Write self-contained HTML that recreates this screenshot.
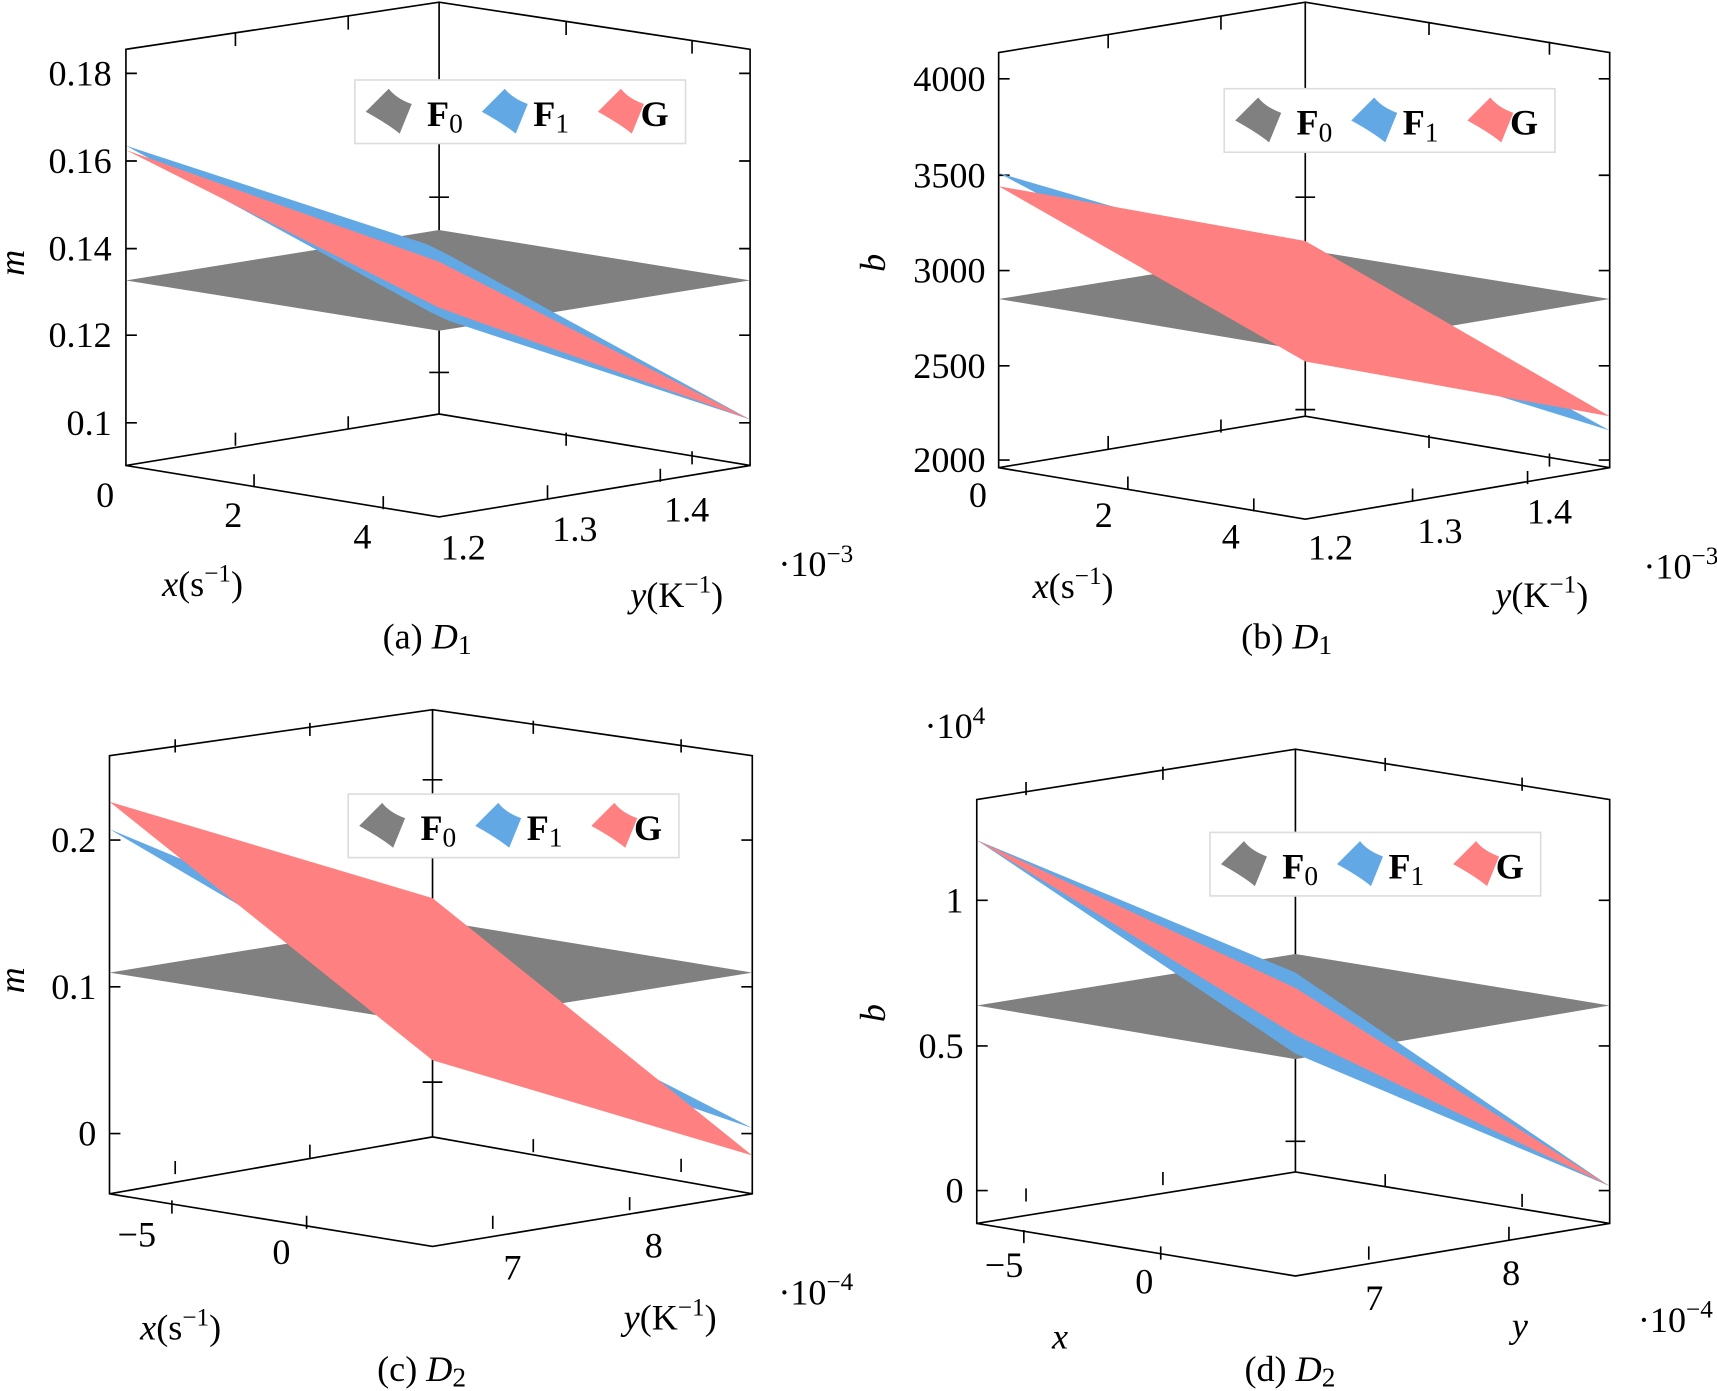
<!DOCTYPE html>
<html><head><meta charset="utf-8"><style>
html,body{margin:0;padding:0;background:#fff;}
svg{display:block;}
svg text{font-family:"Liberation Serif","DejaVu Serif",serif;}
</style></head><body>
<svg width="1717" height="1391" viewBox="0 0 1568 1270" preserveAspectRatio="none" xmlns="http://www.w3.org/2000/svg">
<defs>
<g id="lg">
 <rect x="0" y="0" width="302" height="58" fill="#fff" stroke="#ddd" stroke-width="1.5"/>
 <path d="M10 29 L31 8 Q38 17 52 22 L41 49 Q30 40 10 29 Z" fill="#808080"/>
 <text x="66" y="42" font-size="33" font-weight="bold">F<tspan font-size="25" font-weight="normal" dy="6">0</tspan></text>
 <path d="M116 29 L137 8 Q144 17 158 22 L147 49 Q136 40 116 29 Z" fill="#62a8e5"/>
 <text x="163" y="42" font-size="33" font-weight="bold">F<tspan font-size="25" font-weight="normal" dy="6">1</tspan></text>
 <path d="M222 29 L243 8 Q250 17 264 22 L253 49 Q242 40 222 29 Z" fill="#fe8080"/>
 <text x="261" y="42" font-size="33" font-weight="bold">G</text>
</g>
</defs>

<!-- Panel A -->
<g stroke="#000" stroke-width="1.5" fill="none">
 <path d="M115 45 L401 2 L685 45 L685 425 L401 472 L115 425 Z"/>
 <path d="M401 2 L401 378 M115 425 L401 378 L685 425"/>
 <path d="M115 67h10M115 147h10M115 227h10M115 306h10M115 386h10"/>
 <path d="M685 67h-10M685 147h-10M685 227h-10M685 306h-10M685 386h-10"/>
 <path d="M392 100h18M392 180h18M392 260h18M392 340h18"/>
 <path d="M215 30v12M318 15v12M517 20v12M632 37v12"/>
 <path d="M215 395v12M318 380v12M232 445v-12M350 465v-12M517 395v12M632 412v12M500 455v-12M603 440v-12"/>
</g>
<polygon points="115,256 401,210 685,256 401,302" fill="#808080"/>
<polygon points="115,133 390,223 410,233 685,383 410,293 393,285" fill="#62a8e5"/>
<polygon points="115,137 401,239 685,383 401,281" fill="#fe8080"/>
<use href="#lg" x="324" y="73"/>
<g font-size="33" text-anchor="end">
 <text x="102" y="78">0.18</text><text x="102" y="158">0.16</text><text x="102" y="238">0.14</text><text x="102" y="317">0.12</text><text x="102" y="397">0.1</text>
</g>
<g font-size="33" text-anchor="middle">
 <text x="96" y="463">0</text><text x="213" y="481">2</text><text x="331" y="501">4</text>
 <text x="423" y="511">1.2</text><text x="525" y="494">1.3</text><text x="627" y="476">1.4</text>
 <text x="745" y="526">·10<tspan font-size="23" dy="-13">−3</tspan></text>
 <text x="185" y="544"><tspan font-style="italic">x</tspan>(s<tspan font-size="23" dy="-13">−1</tspan><tspan dy="13">)</tspan></text>
 <text x="618" y="554"><tspan font-style="italic">y</tspan>(K<tspan font-size="23" dy="-13">−1</tspan><tspan dy="13">)</tspan></text>
 <text x="390" y="592">(a) <tspan font-style="italic">D</tspan><tspan font-size="25" dy="5">1</tspan></text>
</g>
<text x="22" y="240" font-size="33" font-style="italic" transform="rotate(-90 22 240)" text-anchor="middle">m</text>

<!-- Panel B -->
<g stroke="#000" stroke-width="1.5" fill="none">
 <path d="M912 48 L1192 2 L1470 48 L1470 427 L1192 474 L912 427 Z"/>
 <path d="M1192 2 L1192 380 M912 427 L1192 380 L1470 427"/>
 <path d="M912 72h10M912 160h10M912 247h10M912 334h10M912 420h10"/>
 <path d="M1470 72h-10M1470 160h-10M1470 247h-10M1470 334h-10M1470 420h-10"/>
 <path d="M1183 100h18M1183 180h18M1183 265h18M1183 374h18"/>
 <path d="M1012 32v12M1115 15v12M1305 20v12M1415 38v12"/>
 <path d="M1012 398v12M1115 383v12M1030 447v-12M1145 467v-12M1305 397v12M1415 414v12M1290 458v-12M1395 442v-12"/>
</g>
<polygon points="912,273 1192,228 1470,273 1192,320" fill="#808080"/>
<polygon points="912,158 1192,240 1470,393 1192,307" fill="#62a8e5"/>
<polygon points="912,170 1192,220 1470,380 1192,330" fill="#fe8080"/>
<use href="#lg" x="1118" y="81"/>
<g font-size="33" text-anchor="end">
 <text x="900" y="83">4000</text><text x="900" y="171">3500</text><text x="900" y="258">3000</text><text x="900" y="345">2500</text><text x="900" y="431">2000</text>
</g>
<g font-size="33" text-anchor="middle">
 <text x="893" y="463">0</text><text x="1008" y="481">2</text><text x="1124" y="501">4</text>
 <text x="1215" y="511">1.2</text><text x="1315" y="496">1.3</text><text x="1415" y="478">1.4</text>
 <text x="1535" y="528">·10<tspan font-size="23" dy="-13">−3</tspan></text>
 <text x="980" y="546"><tspan font-style="italic">x</tspan>(s<tspan font-size="23" dy="-13">−1</tspan><tspan dy="13">)</tspan></text>
 <text x="1408" y="554"><tspan font-style="italic">y</tspan>(K<tspan font-size="23" dy="-13">−1</tspan><tspan dy="13">)</tspan></text>
 <text x="1175" y="592">(b) <tspan font-style="italic">D</tspan><tspan font-size="25" dy="5">1</tspan></text>
</g>
<text x="808" y="240" font-size="33" font-style="italic" transform="rotate(-90 808 240)" text-anchor="middle">b</text>

<!-- Panel C -->
<g stroke="#000" stroke-width="1.5" fill="none">
 <path d="M100 690 L395 648 L687 690 L687 1090 L395 1138 L100 1090 Z"/>
 <path d="M395 648 L395 1038 M100 1090 L395 1038 L687 1090"/>
 <path d="M100 767h10M100 901h10M100 1035h10"/>
 <path d="M687 767h-10M687 901h-10M687 1035h-10"/>
 <path d="M386 712h18M386 850h18M386 988h18"/>
 <path d="M160 675v12M283 660v12M487 658v12M622 675v12"/>
 <path d="M160 1060v12M283 1045v12M157 1108v-12M280 1122v-12M487 1040v12M622 1058v12M450 1122v-12M575 1105v-12"/>
</g>
<polygon points="100,888 395,840 687,888 395,935" fill="#808080"/>
<polygon points="100,757 395,880 687,1030 395,930" fill="#62a8e5"/>
<polygon points="100,732 395,820 687,1055 395,968" fill="#fe8080"/>
<use href="#lg" x="318" y="725"/>
<g font-size="33" text-anchor="end">
 <text x="88" y="778">0.2</text><text x="88" y="912">0.1</text><text x="88" y="1046">0</text>
</g>
<g font-size="33" text-anchor="middle">
 <text x="125" y="1138">−5</text><text x="257" y="1154">0</text>
 <text x="468" y="1168">7</text><text x="597" y="1148">8</text>
 <text x="745" y="1191">·10<tspan font-size="23" dy="-13">−4</tspan></text>
 <text x="165" y="1223"><tspan font-style="italic">x</tspan>(s<tspan font-size="23" dy="-13">−1</tspan><tspan dy="13">)</tspan></text>
 <text x="612" y="1214"><tspan font-style="italic">y</tspan>(K<tspan font-size="23" dy="-13">−1</tspan><tspan dy="13">)</tspan></text>
 <text x="385" y="1261">(c) <tspan font-style="italic">D</tspan><tspan font-size="25" dy="5">2</tspan></text>
</g>
<text x="22" y="895" font-size="33" font-style="italic" transform="rotate(-90 22 895)" text-anchor="middle">m</text>

<!-- Panel D -->
<g stroke="#000" stroke-width="1.5" fill="none">
 <path d="M892 730 L1183 684 L1470 730 L1470 1117 L1183 1165 L892 1117 Z"/>
 <path d="M1183 684 L1183 1070 M892 1117 L1183 1070 L1470 1117"/>
 <path d="M892 822h10M892 955h10M892 1087h10"/>
 <path d="M1470 822h-10M1470 955h-10M1470 1087h-10"/>
 <path d="M1174 1042h18"/>
 <path d="M937 714v12M1062 700v12M1265 692v12M1390 710v12"/>
 <path d="M937 1085v12M1062 1070v12M935 1135v-12M1060 1150v-12M1265 1072v12M1390 1090v12M1250 1150v-12M1378 1132v-12"/>
</g>
<polygon points="892,918 1183,871 1470,918 1183,967" fill="#808080"/>
<polygon points="892,767 1183,888 1470,1083 1183,962" fill="#62a8e5"/>
<polygon points="892,767 1183,902 1470,1083 1183,945" fill="#fe8080"/>
<use href="#lg" x="1105" y="760"/>
<g font-size="33" text-anchor="end">
 <text x="880" y="833">1</text><text x="880" y="966">0.5</text><text x="880" y="1098">0</text>
</g>
<g font-size="33" text-anchor="middle">
 <text x="917" y="1166">−5</text><text x="1045" y="1181">0</text>
 <text x="1255" y="1196">7</text><text x="1380" y="1173">8</text>
 <text x="1530" y="1216">·10<tspan font-size="23" dy="-13">−4</tspan></text>
 <text x="872" y="674">·10<tspan font-size="23" dy="-13">4</tspan></text>
 <text x="968" y="1231" font-style="italic">x</text>
 <text x="1388" y="1221" font-style="italic">y</text>
 <text x="1178" y="1261">(d) <tspan font-style="italic">D</tspan><tspan font-size="25" dy="5">2</tspan></text>
</g>
<text x="808" y="925" font-size="33" font-style="italic" transform="rotate(-90 808 925)" text-anchor="middle">b</text>
</svg>
</body></html>
